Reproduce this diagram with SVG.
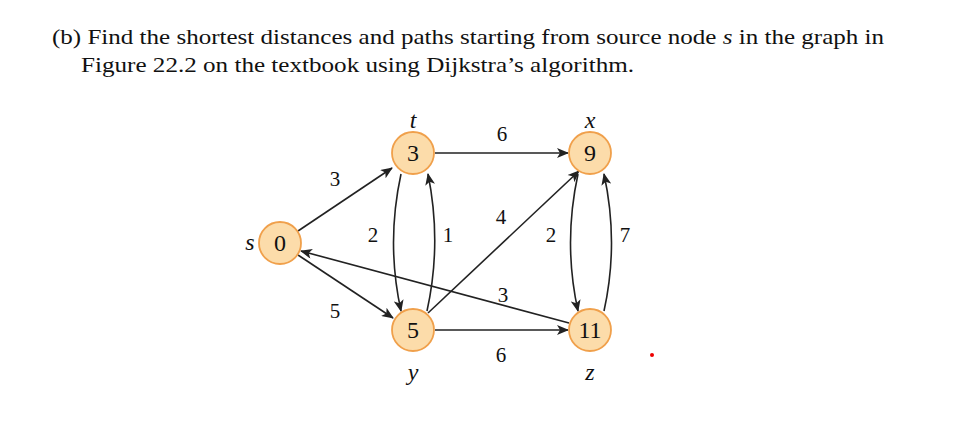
<svg xmlns="http://www.w3.org/2000/svg" width="960" height="441" viewBox="0 0 960 441">
<style>
text{font-family:"Liberation Serif",serif;fill:#111}
.hd{font-size:22px}
.n circle{fill:#fcdcaa;stroke:#f0a04b;stroke-width:1.8}
.n text{font-size:24px;text-anchor:middle}
.lb{font-size:21px;text-anchor:middle}
.it{font-style:italic}
#edges path{fill:none;stroke:#222;stroke-width:1.6;marker-end:url(#a)}
</style>
<defs><marker id="a" viewBox="0 0 12 10" refX="11" refY="5" markerWidth="13" markerHeight="10" markerUnits="userSpaceOnUse" orient="auto"><path d="M0,0 L12,5 L0,10 L3,5 Z" fill="#222"/></marker></defs>
<rect width="960" height="441" fill="#fff"/>
<text class="hd" x="52" y="44" textLength="832" lengthAdjust="spacingAndGlyphs">(b) Find the shortest distances and paths starting from source node <tspan class="it">s</tspan> in the graph in</text>
<text class="hd" x="81" y="72" textLength="553" lengthAdjust="spacingAndGlyphs">Figure 22.2 on the textbook using Dijkstra’s algorithm.</text>
<g id="edges">
<path d="M298,231 L392,168"/>
<path d="M298,255 L393,318"/>
<path d="M435,153 L568,153"/>
<path d="M435,330 L568,330"/>
<path d="M428,313 L579,171"/>
<path d="M569,323 L301,251"/>
<path d="M401,174 Q386,243 401,311"/>
<path d="M427,311 Q442,243 428,174"/>
<path d="M578,174 Q563,243 578,311"/>
<path d="M604,311 Q619,243 604,174"/>
</g>
<g class="lbls">
<text class="lb" x="335" y="186">3</text>
<text class="lb" x="373" y="242">2</text>
<text class="lb" x="448" y="242">1</text>
<text class="lb" x="502" y="141">6</text>
<text class="lb" x="501" y="224">4</text>
<text class="lb" x="551" y="242">2</text>
<text class="lb" x="625" y="242">7</text>
<text class="lb" x="503" y="302">3</text>
<text class="lb" x="335" y="318">5</text>
<text class="lb" x="501" y="362">6</text>
</g>
<g id="s" class="n"><circle cx="280" cy="243" r="21"/><text x="280" y="251">0</text><text class="lb it" x="250" y="250">s</text></g>
<g id="t" class="n"><circle cx="413" cy="153" r="21"/><text x="413" y="161">3</text><text class="lb it" x="413" y="128">t</text></g>
<g id="x" class="n"><circle cx="590" cy="153" r="21"/><text x="590" y="161">9</text><text class="lb it" x="590" y="128">x</text></g>
<g id="y" class="n"><circle cx="413" cy="330" r="21"/><text x="413" y="338">5</text><text class="lb it" x="413" y="380">y</text></g>
<g id="z" class="n"><circle cx="590" cy="330" r="21"/><text x="590" y="338">11</text><text class="lb it" x="590" y="380">z</text></g>
<circle cx="652" cy="355" r="2" fill="#e00"/>
</svg>
